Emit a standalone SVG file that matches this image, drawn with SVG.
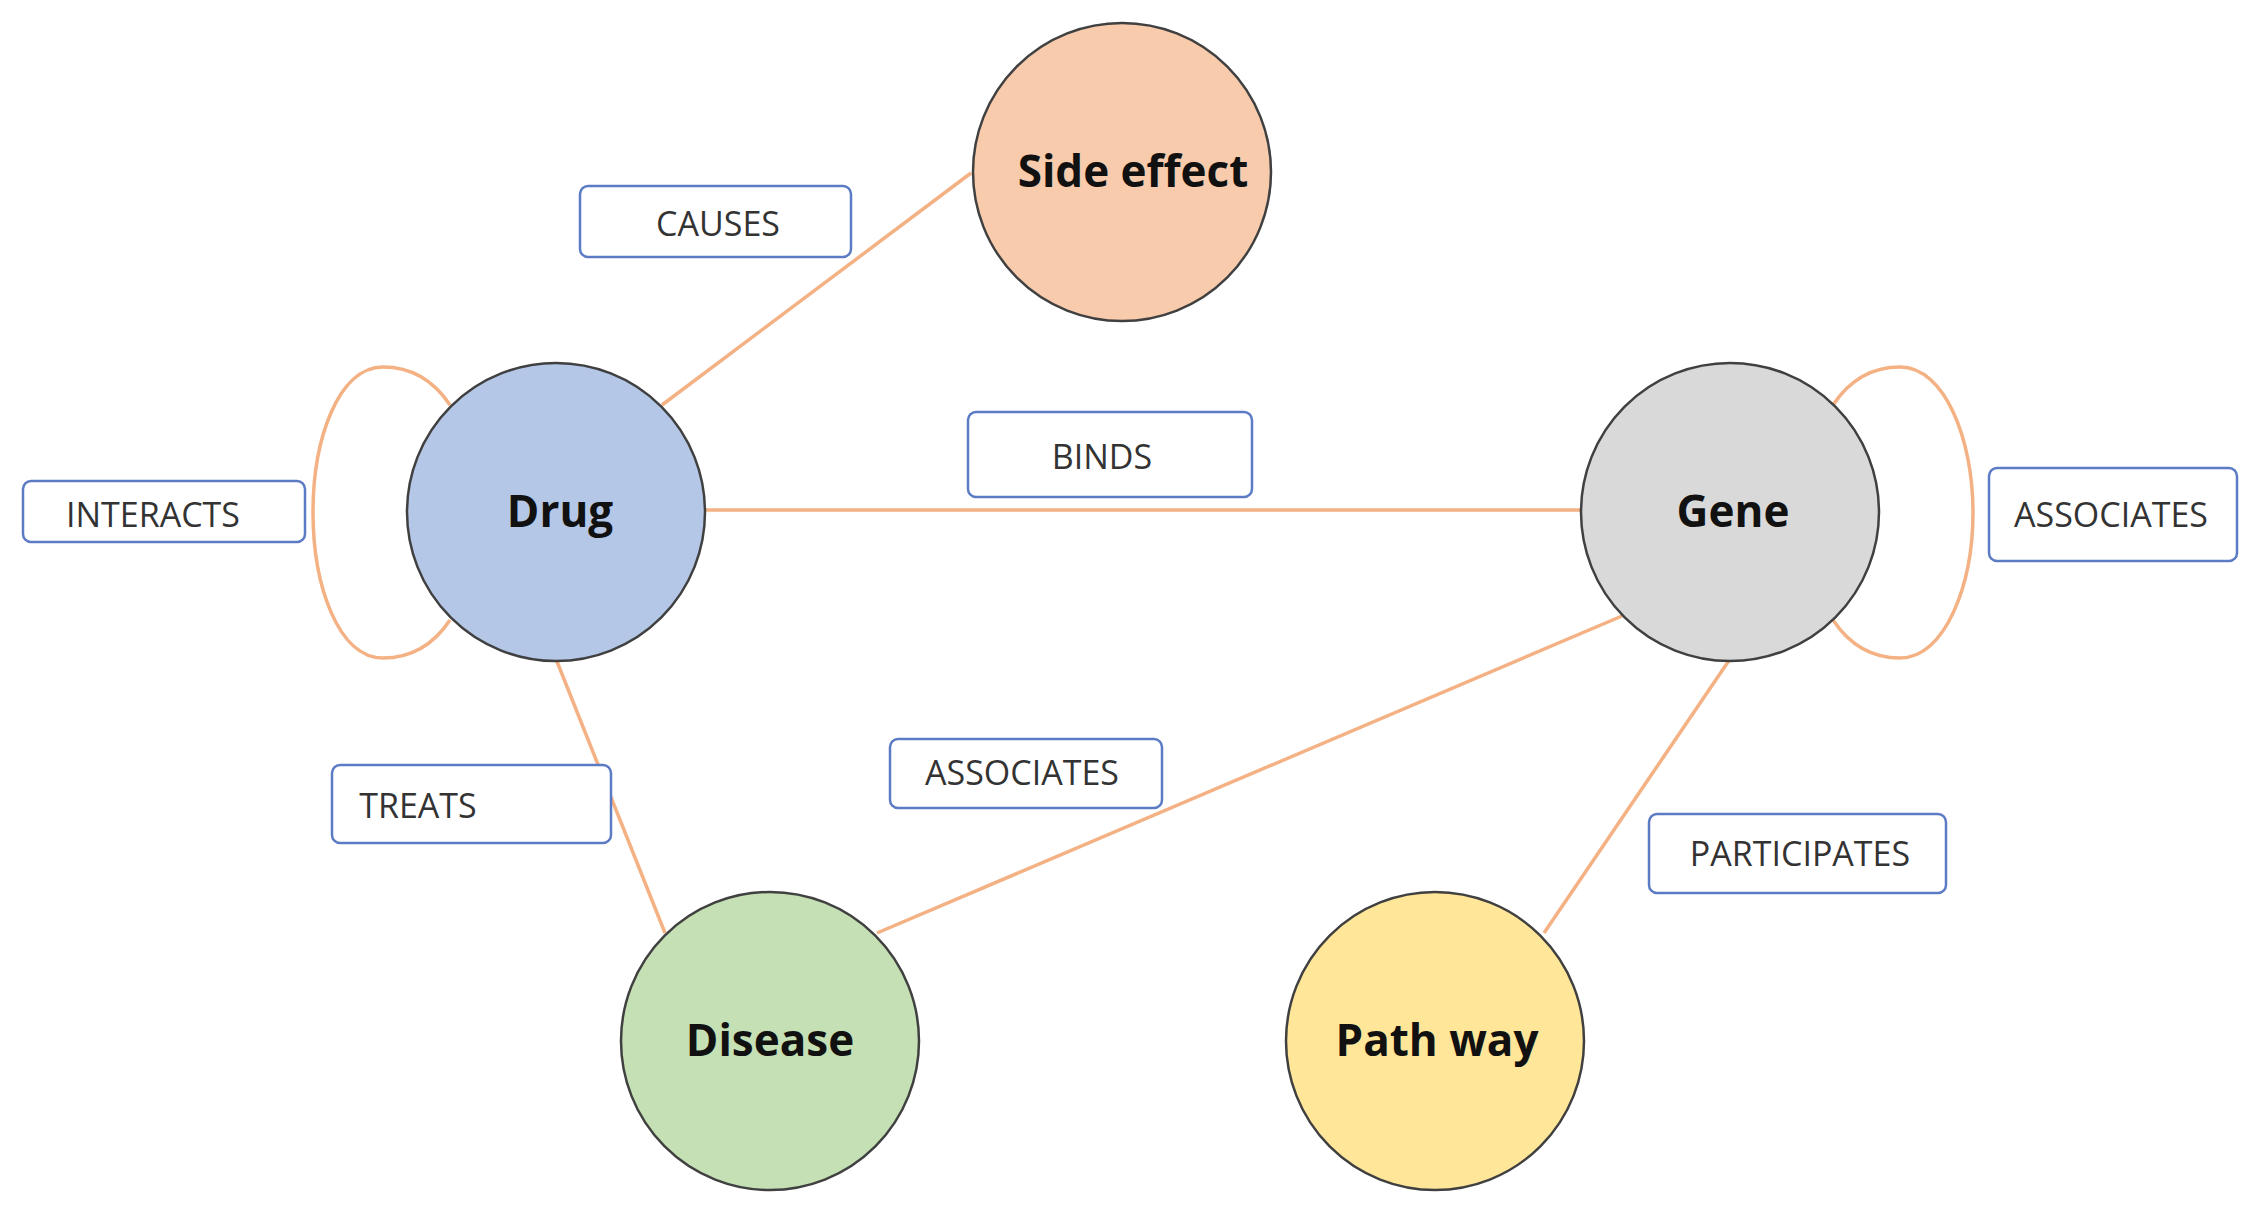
<svg xmlns="http://www.w3.org/2000/svg" width="2255" height="1215" viewBox="0 0 2255 1215">
<style>
.e{fill:none;stroke:#F4B183;stroke-width:3.5}
.n{stroke:#404040;stroke-width:2.5}
.nt{font-family:"Open Sans","Liberation Sans",sans-serif;font-weight:bold;font-size:44px;text-anchor:middle;fill:#111}
.b{fill:#fff;stroke:#5B7BC4;stroke-width:2.5}
.lt{font-family:"Open Sans","Liberation Sans",sans-serif;font-size:34px;text-anchor:middle;fill:#333}
</style>
<rect width="2255" height="1215" fill="#fff"/>
<g id="edges">
<line class="e" x1="662" y1="405" x2="971" y2="173"/>
<line class="e" x1="705" y1="510" x2="1583" y2="510"/>
<line class="e" x1="556" y1="659" x2="665" y2="933"/>
<line class="e" x1="877" y1="933" x2="1622" y2="616"/>
<line class="e" x1="1730" y1="659" x2="1544" y2="933"/>
<path class="e" d="M450,405 C430,375 405,367 383,367 C338,367 313,440 313,512 C313,585 338,658 383,658 C405,658 430,650 450,620"/>
<path class="e" d="M1833,405 C1853,375 1878,367 1900,367 C1945,367 1973,440 1973,512 C1973,585 1945,658 1900,658 C1878,658 1853,650 1833,620"/>
</g>
<g id="side-effect"><circle class="n" cx="1122" cy="172" r="149" fill="#F8CBAD"/><text class="nt" x="1133" y="187">Side effect</text></g>
<g id="drug"><circle class="n" cx="556" cy="512" r="149" fill="#B4C7E7"/><text class="nt" x="560" y="527">Drug</text></g>
<g id="gene"><circle class="n" cx="1730" cy="512" r="149" fill="#D9D9D9"/><text class="nt" x="1733" y="527">Gene</text></g>
<g id="disease"><circle class="n" cx="770" cy="1041" r="149" fill="#C5E0B4"/><text class="nt" x="770" y="1056">Disease</text></g>
<g id="pathway"><circle class="n" cx="1435" cy="1041" r="149" fill="#FFE699"/><text class="nt" x="1437" y="1056">Path way</text></g>
<g id="l-causes"><rect class="b" x="580" y="186" width="271" height="71" rx="8"/><text class="lt" x="718" y="236">CAUSES</text></g>
<g id="l-binds"><rect class="b" x="968" y="412" width="284" height="85" rx="8"/><text class="lt" x="1102" y="469">BINDS</text></g>
<g id="l-interacts"><rect class="b" x="23" y="481" width="282" height="61" rx="8"/><text class="lt" x="153" y="527">INTERACTS</text></g>
<g id="l-assoc-right"><rect class="b" x="1989" y="468" width="248" height="93" rx="8"/><text class="lt" x="2111" y="527">ASSOCIATES</text></g>
<g id="l-treats"><rect class="b" x="332" y="765" width="279" height="78" rx="8"/><text class="lt" x="418" y="818">TREATS</text></g>
<g id="l-assoc-mid"><rect class="b" x="890" y="739" width="272" height="69" rx="8"/><text class="lt" x="1022" y="785">ASSOCIATES</text></g>
<g id="l-participates"><rect class="b" x="1649" y="814" width="297" height="79" rx="8"/><text class="lt" x="1800" y="866">PARTICIPATES</text></g>
</svg>
